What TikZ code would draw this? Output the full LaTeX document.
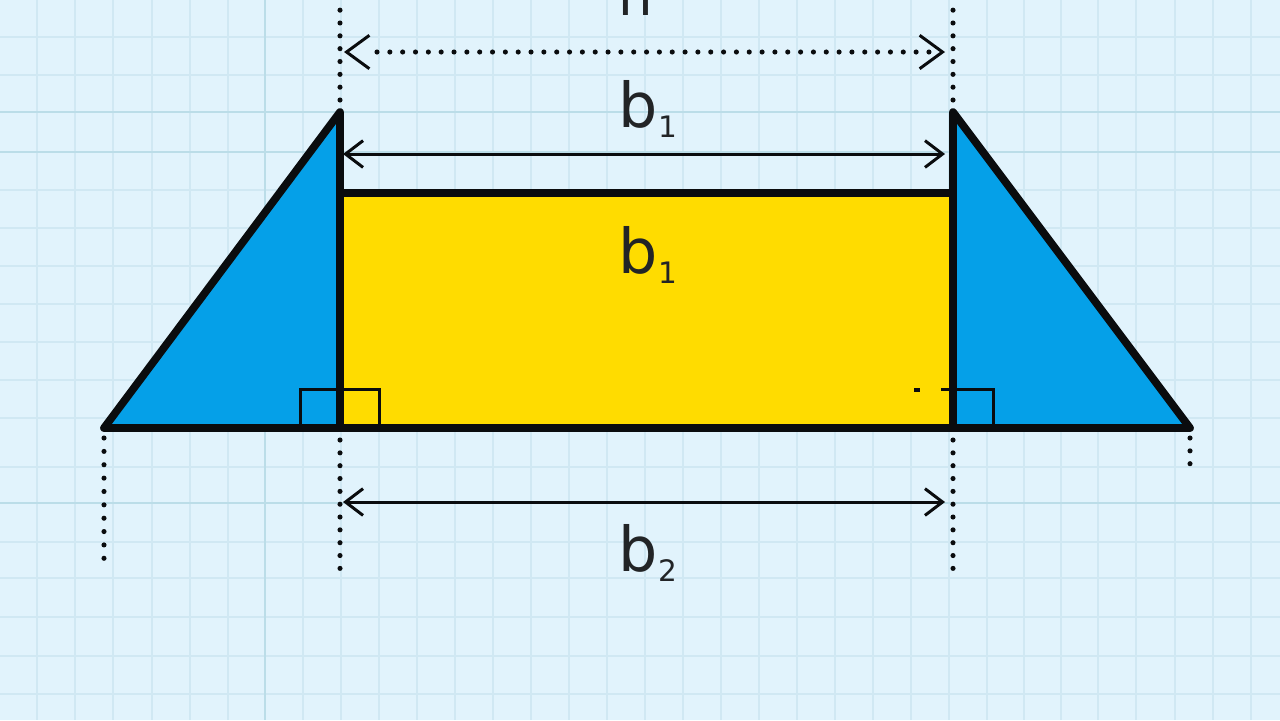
\documentclass[tikz,border=0pt]{standalone}
\usepackage{fontspec}
\setmainfont{DejaVu Sans}
\usetikzlibrary{arrows.meta}
\definecolor{paper}{HTML}{E1F3FC}
\definecolor{gridline}{HTML}{D0E8F3}
\definecolor{gridstrong}{HTML}{BBDDE8}
\definecolor{rectyellow}{HTML}{FFDC00}
\definecolor{triblue}{HTML}{05A0E8}
\definecolor{ink}{HTML}{0A0C0E}
\newcommand{\lenlabel}[2]{#1\raisebox{-2.9pt}{\fontsize{8.4}{9}\selectfont #2}}
\tikzset{
	outline/.style={ink,line width=2.2pt,line join=round,line cap=round},
	rightmark/.style={ink,line width=0.85pt},
	guide/.style={ink,line width=1.45pt,line cap=round,dash pattern=on 0pt off 3.65pt},
	measure/.style={ink,line width=0.85pt,{Straight Barb[length=5pt,width=7.6pt]}-{Straight Barb[length=5pt,width=7.6pt]}},
	bigbarb/.style={ink,line width=0.85pt,{Straight Barb[length=6.5pt,width=9.5pt]}-{Straight Barb[length=6.5pt,width=9.5pt]},dash pattern=on 0pt off 1000pt},
	widthlabel/.style={anchor=base,inner sep=0pt,text=ink!90,font=\fontsize{17.6}{20}\selectfont}
}
\begin{document}
\begin{tikzpicture}[x=0.01cm,y=-0.01cm]
	\useasboundingbox (0,0) rectangle (1280,720);
	\clip (0,0) rectangle (1280,720);
	% Paper
	\fill [paper] (0,0) rectangle (1280,720);
	\foreach \gx in {37,75,113,152,190,228,303,341,379,417,455,493,531,569,607,645,683,721,759,797,835,873,911,949,987,1024,1061,1098,1136,1175,1213,1251}
		\draw [gridline,line width=0.6pt] (\gx,0) -- (\gx,720);
	\foreach \gy in {37,75,190,228,266,304,342,380,418,467,542,578,617,656,694}
		\draw [gridline,line width=0.6pt] (0,\gy) -- (1280,\gy);
	\foreach \gy in {112,152,503}
		\draw [gridstrong,line width=0.7pt] (0,\gy) -- (1280,\gy);
	\draw [gridstrong,line width=0.7pt] (265,0) -- (265,720);
	% Points
	\coordinate (topL) at (340,112);
	\coordinate (topR) at (953,112);
	\coordinate (midL) at (340,193);
	\coordinate (midR) at (953,193);
	\coordinate (baseL) at (340,428);
	\coordinate (baseR) at (953,428);
	\coordinate (farL) at (104,428);
	\coordinate (farR) at (1190,428);
	% Shapes
	\fill [triblue] (farL) -- (topL) -- (baseL) -- cycle;
	\fill [triblue] (farR) -- (topR) -- (baseR) -- cycle;
	\fill [rectyellow] (midL) rectangle (baseR);
	% Right angles
	\draw [rightmark] (300,428) -- (300,389) -- (379,389) -- (379,428);
	\draw [rightmark] (941,389) -- (993,389) -- (993,428);
	\draw [rightmark,line width=1pt] (914,390) -- (920,390);
	% Outline
	\draw [outline] (farL) -- (topL) -- (baseL) -- cycle;
	\draw [outline] (farR) -- (topR) -- (baseR) -- cycle;
	\draw [outline] (midL) -- (midR);
	\draw [outline] (baseL) -- (baseR);
	% Guides
	\draw [guide] (340,100) -- (340,0);
	\draw [guide] (953,100) -- (953,0);
	\draw [guide] (340,440) -- (340,572);
	\draw [guide] (953,440) -- (953,572);
	\draw [guide,dash pattern=on 0pt off 3.8pt] (104,438) -- (104,560);
	\draw [guide] (1190,438) -- (1190,466);
	% Measures
	\coordinate (hL) at (344,52);
	\coordinate (hR) at (945,52);
	\coordinate (dotL) at (377,52);
	\coordinate (dotR) at (932,52);
	\draw [guide] (dotL) -- (dotR);
	\draw [bigbarb] (hL) -- (hR);
	\coordinate (upperL) at (343,154);
	\coordinate (upperR) at (945,154);
	\draw [measure] (upperL) -- (upperR);
	\coordinate (lowerL) at (343,502);
	\coordinate (lowerR) at (945,502);
	\draw [measure] (lowerL) -- (lowerR);
	% Labels
	\node [widthlabel,font=\fontsize{15.5}{18}\selectfont] (hlabel) at (636,15) {h};
	\node [widthlabel] (topwidth) at (648,127) {\lenlabel{b}{1}};
	\node [widthlabel] (innerwidth) at (648,273) {\lenlabel{b}{1}};
	\node [widthlabel] (lowerwidth) at (648,571) {\lenlabel{b}{2}};
\end{tikzpicture}
\end{document}
